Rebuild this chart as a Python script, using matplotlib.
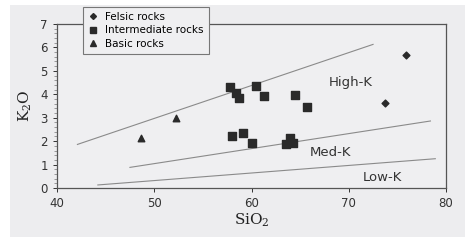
import matplotlib
matplotlib.use("Agg")
import matplotlib.pyplot as plt
from matplotlib.patches import Rectangle
from matplotlib.lines import Line2D

plt.rcParams["mathtext.fontset"] = "dejavuserif"

felsic_x = [75.9, 73.7]
felsic_y = [5.68, 3.63]
inter_x = [57.8, 58.4, 58.7, 60.5, 61.3, 64.5, 65.7, 58.0, 59.1, 60.1, 63.5, 64.0, 64.3]
inter_y = [4.30, 4.07, 3.85, 4.37, 3.91, 3.97, 3.47, 2.23, 2.36, 1.93, 1.89, 2.12, 1.91]
basic_x = [48.6, 52.2]
basic_y = [2.12, 2.97]

line_high_x = [42.1, 72.5]
line_high_y = [1.86, 6.13]
line_med_x = [47.5, 78.4]
line_med_y = [0.88, 2.86]
line_low_x = [44.2, 78.9]
line_low_y = [0.13, 1.25]

zone_labels = ["High-K", "Med-K", "Low-K"]
zone_x = [70.2, 68.1, 73.5]
zone_y = [4.5, 1.51, 0.46]

xticks = [40, 50, 60, 70, 80]
yticks = [0, 1, 2, 3, 4, 5, 6, 7]

W, H = 474, 247
fig = plt.figure(figsize=(W / 100, H / 100), dpi=100)
fig.patch.set_facecolor("white")
fig.patches.append(Rectangle((10 / W, 1 - 237 / H), 455 / W, 232 / H,
                             transform=fig.transFigure, facecolor="#ededef",
                             edgecolor="none", zorder=-10))

ax = fig.add_axes([57 / W, 1 - 188 / H, 389 / W, 164 / H])
ax.set_facecolor("#efeff1")
for s in ax.spines.values():
    s.set_color("#555555")
    s.set_linewidth(0.9)

lc = "#8a8a8a"
ax.plot(line_high_x, line_high_y, color=lc, lw=0.8)
ax.plot(line_med_x, line_med_y, color=lc, lw=0.8)
ax.plot(line_low_x, line_low_y, color=lc, lw=0.8)

mc = "#2a2a2a"
ax.scatter(felsic_x, felsic_y, marker="D", s=12, color=mc, zorder=3)
ax.scatter(inter_x, inter_y, marker="s", s=26, color=mc, zorder=3)
ax.scatter(basic_x, basic_y, marker="^", s=22, color=mc, zorder=3)

for lab, x, y in zip(zone_labels, zone_x, zone_y):
    ax.text(x, y, lab, ha="center", va="center", fontsize=9.5,
            family="DejaVu Sans", color="#333333")

ax.set_xlim(40, 80)
ax.set_ylim(0, 7)
ax.set_xticks(xticks)
ax.set_yticks(yticks)
ax.set_yticks([i * 0.2 for i in range(36)], minor=True)
ax.tick_params(axis="both", which="major", labelsize=8.5, colors="#333333",
               length=3, width=0.7)
ax.tick_params(axis="y", which="minor", length=2, width=0.5, color="#777777")
for t in ax.get_xticklabels() + ax.get_yticklabels():
    t.set_family("DejaVu Sans")

ax.set_xlabel(r"SiO$_2$", fontsize=11, family="DejaVu Serif", labelpad=1,
              color="#222222")
ax.set_ylabel(r"K$_2$O", fontsize=11, family="DejaVu Serif", labelpad=5,
              color="#222222")

handles = [
    Line2D([], [], marker="D", ls="none", color=mc, markersize=3),
    Line2D([], [], marker="s", ls="none", color=mc, markersize=4.5),
    Line2D([], [], marker="^", ls="none", color=mc, markersize=4.5),
]
leg = fig.legend(handles, ["Felsic rocks", "Intermediate rocks", "Basic rocks"],
                 loc="upper left", bbox_to_anchor=(83 / W, 1 - 7 / H),
                 prop={"family": "DejaVu Sans", "size": 7.5},
                 frameon=True, fancybox=False, borderpad=0.45,
                 labelspacing=0.35, handlelength=1.0, handletextpad=0.7,
                 borderaxespad=0)
leg.get_frame().set_edgecolor("#777777")
leg.get_frame().set_facecolor("#efeff1")
leg.get_frame().set_linewidth(0.8)
leg.get_frame().set_alpha(1)

fig.savefig("out.png", dpi=100)
